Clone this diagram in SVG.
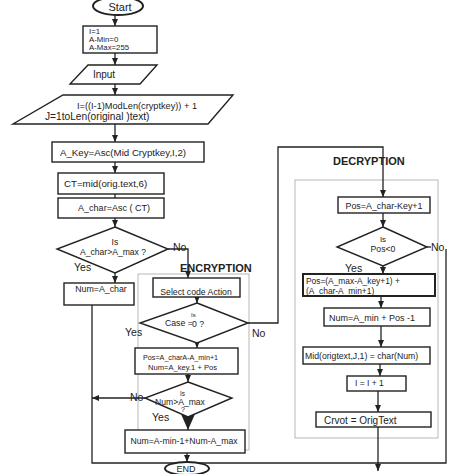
<svg xmlns="http://www.w3.org/2000/svg" width="474" height="474" viewBox="0 0 474 474">
<style>
.b{fill:#fff;stroke:#222;stroke-width:1.4}
.bb{fill:#fff;stroke:#222;stroke-width:2}
.g{fill:none;stroke:#c4c4c4;stroke-width:1.2}
.c{fill:none;stroke:#222;stroke-width:1.3}
text{font-family:"Liberation Sans",Arial,sans-serif;fill:#222}
.t{font-size:8.7px}
.l{font-size:10.5px}
.h{font-size:11px;font-weight:bold}
.m{text-anchor:middle}
</style>
<defs>
<marker id="a" markerUnits="userSpaceOnUse" markerWidth="8" markerHeight="8" refX="7" refY="4" orient="auto"><path d="M0,1 L7,4 L0,7 Z" fill="#222"/></marker>
<marker id="big" markerUnits="userSpaceOnUse" markerWidth="18" markerHeight="14" refX="16" refY="7" orient="auto"><path d="M0,0 L16,7 L0,14 Z" fill="#222"/></marker>
</defs>
<rect class="g" x="138" y="274" width="111" height="176"/>
<rect class="g" x="295" y="180" width="143" height="258"/>
<g id="connectors">
<path class="c" d="M115,15 V26" marker-end="url(#a)"/>
<path class="c" d="M115,53 V65" marker-end="url(#a)"/>
<path class="c" d="M115,84 V95" marker-end="url(#a)"/>
<path class="c" d="M115,124 V142" marker-end="url(#a)"/>
<path class="c" d="M115,162 V173" marker-end="url(#a)"/>
<path class="c" d="M115,194 V198"/>
<path class="c" d="M115,218 V227" marker-end="url(#a)"/>
<path class="c" d="M115,273 V283" marker-end="url(#a)"/>
<path class="c" d="M168,249 H188 V278" marker-end="url(#a)"/>
<path class="c" d="M197,297 V303" marker-end="url(#a)"/>
<path class="c" d="M197,343 V348" marker-end="url(#a)"/>
<path class="c" d="M248,323 H278 V147 H383 V197" marker-end="url(#a)"/>
<path class="c" d="M188,374 V382" marker-end="url(#a)"/>
<path class="c" d="M145,398 H92" marker-end="url(#a)"/>
<path class="c" d="M188,417 V430" marker-end="url(#big)"/>
<path class="c" d="M187,453 V462" marker-end="url(#a)"/>
<path class="c" d="M92,305 V463 H446 V249"/>
<path class="c" d="M427,247 H431"/>
<path class="c" d="M383,213 V227" marker-end="url(#a)"/>
<path class="c" d="M383,266 V274" marker-end="url(#a)"/>
<path class="c" d="M381,296 V308" marker-end="url(#a)"/>
<path class="c" d="M381,326 V347" marker-end="url(#a)"/>
<path class="c" d="M380,364 V376" marker-end="url(#a)"/>
<path class="c" d="M378,391 V412" marker-end="url(#a)"/>
<path class="c" d="M378,427 V471" marker-end="url(#a)"/>
</g>
<g id="start"><ellipse class="bb" cx="118" cy="6" rx="25" ry="9"/><text x="120" y="11" class="m" font-size="11">Start</text></g>
<g id="init"><rect class="b" x="83" y="26" width="74" height="27"/>
<text font-size="7.8" x="89" y="34">I=1</text><text font-size="7.8" x="89" y="42">A-Min=0</text><text font-size="7.8" x="89" y="50">A-Max=255</text></g>
<g id="input"><polygon class="b" points="88,65 157,65 140,84 70,84"/><text x="104" y="78" class="m" font-size="10">Input</text></g>
<g id="calcIJ"><polygon class="b" points="63,95 233,95 208,124 13,124"/>
<text x="77" y="109" font-size="9.2">I=((I-1)ModLen(cryptkey)) + 1</text>
<text x="45" y="120" font-size="10.2">J=1toLen(original )text)</text></g>
<g id="akey"><rect class="b" x="52" y="142" width="152" height="20"/><text x="60" y="156" font-size="9.7">A_Key=Asc(Mid Cryptkey,I,2)</text></g>
<g id="ct"><rect class="b" x="58" y="173" width="106" height="21"/><text x="64" y="187" font-size="9.7">CT=mid(orig.text,6)</text></g>
<g id="achar"><rect class="b" x="58" y="198" width="106" height="20"/><text x="114" y="211" class="m" font-size="9">A_char=Asc ( CT)</text></g>
<g id="dec1"><polygon class="b" points="115,227 168,249 115,273 57,249"/>
<text x="115" y="245" class="m" font-size="8.7">Is</text><text x="113" y="255" class="m" font-size="8.6">A_char&gt;A_max ?</text>
<text x="173" y="251" class="l">No</text><text x="74" y="271" class="l">Yes</text></g>
<g id="numchar"><rect class="b" x="64" y="283" width="70" height="22"/><text x="101" y="292" class="m" font-size="8.8">Num=A_char</text></g>
<text x="180" y="272" class="h">ENCRYPTION</text>
<g id="select"><rect class="b" x="153" y="278" width="87" height="19"/><text x="196" y="295" class="m t">Select code Action</text></g>
<g id="case"><polygon class="b" points="197,303 248,323 197,343 140,323"/>
<text x="165" y="326" class="t">Case =</text><text x="191" y="317" font-size="6">Is</text><text x="192" y="327" class="t">0 ?</text>
<text x="125" y="336" class="l">Yes</text><text x="252" y="337" class="l">No</text></g>
<g id="posenc"><rect class="b" x="135" y="348" width="103" height="26"/>
<text x="143" y="360" font-size="7.2">Pos=A_charA-A_min+1</text><text x="148" y="370" font-size="7.6">Num=A_key.1 + Pos</text></g>
<g id="dec2"><polygon class="b" points="188,382 232,398 188,417 145,398"/>
<text x="155" y="405" font-size="8.6">Num&gt;A_max</text><text x="180" y="396" font-size="6.5">Is</text><text x="181" y="412" font-size="7">?</text>
<text x="130" y="401" class="l">No</text><text x="152" y="421" class="l">Yes</text></g>
<g id="wrap"><rect class="b" x="125" y="430" width="120" height="23"/><text x="184" y="444" class="m t">Num=A-min-1+Num-A_max</text></g>
<g id="end"><ellipse class="bb" cx="187" cy="468.5" rx="22" ry="6.5"/><text x="186" y="472" class="m" font-size="9">END</text></g>
<text x="333" y="165" class="h">DECRYPTION</text>
<g id="posdec"><rect class="b" x="338" y="197" width="92" height="16"/><text x="384" y="209" class="m" font-size="8.9">Pos=A_char-Key+1</text></g>
<g id="dec3"><polygon class="b" points="383,227 427,247 383,266 337,247"/>
<text x="383" y="242" class="m" font-size="8">Is</text><text x="383" y="252" class="m t">Pos&lt;0</text>
<text x="431" y="251" class="l">No</text><text x="345" y="272" class="l">Yes</text></g>
<g id="posneg"><rect class="bb" x="303" y="274" width="132" height="22"/>
<text x="306" y="284" font-size="8.4">Pos=(A_max-A_key+1) +</text><text x="306" y="294" font-size="8.4">(A_char-A_min+1)</text></g>
<g id="numdec"><rect class="b" x="324" y="308" width="106" height="18"/><text x="372" y="321" class="m" font-size="9">Num=A_min + Pos -1</text></g>
<g id="mid"><rect class="b" x="303" y="347" width="127" height="17"/><text x="305" y="359" class="t">Mid(origtext,J,1) = char(Num)</text></g>
<g id="inc"><rect class="b" x="347" y="376" width="59" height="15"/><text x="355" y="386" font-size="8.5">I = I + 1</text></g>
<g id="crvot"><rect class="b" x="316" y="412" width="115" height="15"/><text x="324" y="424" font-size="10">Crvot = OrigText</text></g>
</svg>
